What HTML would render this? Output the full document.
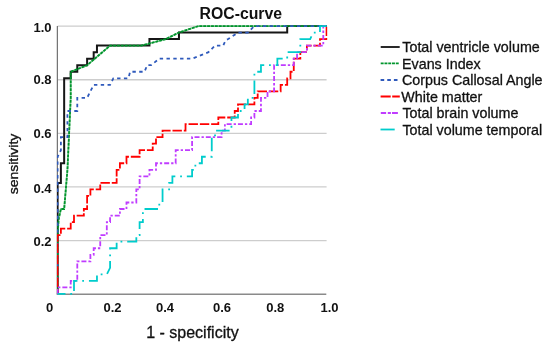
<!DOCTYPE html>
<html><head><meta charset="utf-8"><title>ROC-curve</title>
<style>html,body{margin:0;padding:0;background:#fff;}body{width:550px;height:348px;position:relative;overflow:hidden;font-family:"Liberation Sans",Arial,sans-serif;}</style>
</head><body>
<svg width="550" height="348" viewBox="0 0 550 348" style="position:absolute;left:0;top:0;filter:blur(0.35px)">
<line x1="57.6" y1="240.55" x2="326.6" y2="240.55" stroke="#cdcdcd" stroke-width="1.3"/>
<line x1="57.6" y1="186.95" x2="326.6" y2="186.95" stroke="#cdcdcd" stroke-width="1.3"/>
<line x1="57.6" y1="133.35" x2="326.6" y2="133.35" stroke="#cdcdcd" stroke-width="1.3"/>
<line x1="57.6" y1="79.75" x2="326.6" y2="79.75" stroke="#cdcdcd" stroke-width="1.3"/>
<line x1="57.6" y1="26.15" x2="326.6" y2="26.15" stroke="#cdcdcd" stroke-width="1.3"/>
<line x1="57.35" y1="26" x2="57.35" y2="294.8" stroke="#6a6a6a" stroke-width="1.15"/>
<line x1="56.8" y1="294.15" x2="326.3" y2="294.15" stroke="#8a8a8a" stroke-width="1.5"/>
<defs><clipPath id="pc"><rect x="56.9" y="25.2" width="270.5" height="269.6"/></clipPath></defs><g clip-path="url(#pc)">
<path d="M57.60 294.00 L57.60 182.88 L60.88 182.88 L60.88 163.27 L64.16 163.27 L64.16 78.29 L70.72 78.29 L70.72 71.76 L77.28 71.76 L77.28 65.22 L87.12 65.22 L87.12 58.68 L93.68 58.68 L93.68 52.15 L96.96 52.15 L96.96 45.61 L149.44 45.61 L149.44 39.07 L178.96 39.07 L178.96 32.54 L287.20 32.54 L287.20 26.00 L326.56 26.00" fill="none" stroke="#161616" stroke-width="2.0" stroke-linejoin="miter"/>
<path d="M57.60 294.00 L57.60 235.17 L58.58 219.48 L60.88 209.02 L64.16 209.02 L67.44 169.80 L70.72 97.90 L70.72 71.76 L87.12 65.22 L110.08 45.61 L141.24 45.61 L165.84 39.07 L178.96 32.54 L198.64 26.00 L326.56 26.00" fill="none" stroke="#00952c" stroke-width="1.8" stroke-linejoin="miter" stroke-opacity="0.45"/>
<path d="M57.60 294.00 L57.60 235.17 L58.58 219.48 L60.88 209.02 L64.16 209.02 L67.44 169.80 L70.72 97.90 L70.72 71.76 L87.12 65.22 L110.08 45.61 L141.24 45.61 L165.84 39.07 L178.96 32.54 L198.64 26.00 L326.56 26.00" fill="none" stroke="#00952c" stroke-width="1.8" stroke-dasharray="2.8 1.1" stroke-linejoin="miter"/>
<path d="M57.60 294.00 L57.60 156.73 L60.88 150.20 L60.88 137.12 L67.44 137.12 L67.44 110.98 L77.28 110.98 L77.28 97.90 L87.12 97.90 L93.68 84.83 L110.08 84.83 L113.36 78.29 L128.45 78.29 L130.09 71.76 L144.52 71.76 L147.14 65.22 L151.08 65.22 L159.28 58.68 L192.08 58.68 L208.48 52.15 L215.04 45.61 L223.24 45.61 L225.54 40.38 L228.16 39.07 L238.00 32.54 L247.84 32.54 L254.40 26.00 L326.56 26.00" fill="none" stroke="#2f5abc" stroke-width="1.8" stroke-dasharray="3.4 3.4" stroke-linejoin="miter"/>
<path d="M57.60 294.00 L57.60 235.17 L60.88 235.17 L60.88 228.63 L70.72 228.63 L70.72 222.10 L74.00 222.10 L74.00 215.56 L83.84 215.56 L83.84 209.02 L87.12 209.02 L87.12 195.95 L90.40 195.95 L90.40 189.41 L100.24 189.41 L100.24 182.88 L116.64 182.88 L116.64 169.80 L119.92 169.80 L119.92 163.27 L126.48 163.27 L126.48 156.73 L139.60 156.73 L139.60 150.20 L152.72 150.20 L152.72 143.66 L156.00 143.66 L156.00 137.12 L162.56 137.12 L162.56 130.59 L185.52 130.59 L185.52 124.05 L218.32 124.05 L218.32 117.51 L234.72 117.51 L234.72 110.98 L238.00 110.98 L238.00 104.44 L254.40 104.44 L254.40 97.90 L257.68 97.90 L257.68 91.37 L280.64 91.37 L280.64 84.83 L287.20 84.83 L287.20 78.29 L290.48 78.29 L290.48 71.76 L293.76 71.76 L293.76 58.68 L300.32 58.68 L300.32 52.15 L306.88 52.15 L306.88 45.61 L320.00 45.61 L320.00 39.07 L326.56 39.07 L326.56 26.00" fill="none" stroke="#ff0000" stroke-width="1.8" stroke-dasharray="9.4 1.9" stroke-linejoin="miter" stroke-dashoffset="4.2"/>
<path d="M57.60 294.00 L57.60 287.46 L70.72 287.46 L70.72 280.93 L77.28 280.93 L77.28 261.32 L90.40 261.32 L90.40 254.78 L93.68 254.78 L93.68 248.24 L100.24 248.24 L100.24 235.17 L106.80 235.17 L106.80 222.10 L110.08 222.10 L110.08 215.56 L119.92 215.56 L119.92 209.02 L126.48 209.02 L126.48 202.49 L136.32 202.49 L136.32 189.41 L139.60 189.41 L139.60 176.34 L149.44 176.34 L149.44 169.80 L156.00 169.80 L156.00 163.27 L175.68 163.27 L175.68 150.20 L192.08 150.20 L192.08 137.12 L221.60 137.12 L221.60 130.59 L224.88 130.59 L224.88 124.05 L251.12 124.05 L251.12 117.51 L254.40 117.51 L254.40 110.98 L260.96 110.98 L260.96 97.90 L267.52 97.90 L267.52 91.37 L274.08 91.37 L274.08 65.22 L293.76 65.22 L293.76 58.68 L297.04 58.68 L297.04 52.15 L306.88 52.15 L306.88 45.61 L323.28 45.61 L323.28 26.00 L326.56 26.00" fill="none" stroke="#c03cff" stroke-width="1.8" stroke-dasharray="5 2 2.3 2" stroke-linejoin="miter"/>
<path d="M57.60 294.00 L74.00 294.00 L74.00 280.93 L96.96 280.93 L96.96 274.39 L106.80 274.39 L110.08 267.85 L110.08 248.24 L116.64 248.24 L116.64 241.71 L136.32 241.71 L136.32 235.17 L139.60 235.17 L139.60 222.10 L142.88 222.10 L142.88 209.02 L159.28 209.02 L159.28 202.49 L162.56 202.49 L162.56 189.41 L169.12 189.41 L169.12 182.88 L172.40 182.88 L172.40 176.34 L192.08 176.34 L192.08 169.80 L195.36 169.80 L195.36 163.27 L201.92 163.27 L201.92 156.73 L211.76 156.73 L211.76 137.12 L215.04 137.12 L215.04 130.59 L231.44 130.59 L231.44 117.51 L238.00 117.51 L238.00 110.98 L244.56 110.98 L244.56 104.44 L247.84 104.44 L247.84 97.90 L254.40 97.90 L254.40 71.76 L260.96 71.76 L260.96 65.22 L277.36 65.22 L277.36 58.68 L287.20 58.68 L287.20 52.15 L300.32 52.15 L300.32 39.07 L310.16 39.07 L313.44 32.54 L320.00 32.54 L320.00 26.00 L326.56 26.00" fill="none" stroke="#00cccc" stroke-width="1.8" stroke-dasharray="13.5 4.8 1.8 4.9" stroke-linejoin="miter" stroke-dashoffset="5.6"/>
</g>
<line x1="380.7" y1="47.0" x2="399.7" y2="47.0" stroke="#111" stroke-width="1.8"/>
<line x1="380.7" y1="63.4" x2="399.5" y2="63.4" stroke="#00952c" stroke-width="1.8" stroke-dasharray="2.95 0.82"/>
<line x1="380.6" y1="80.0" x2="398" y2="80.0" stroke="#2f5abc" stroke-width="1.8" stroke-dasharray="3.6 3.05"/>
<path d="M380.6 96.5H390.7M392.2 96.5H399.8" stroke="#ff0000" stroke-width="1.8" fill="none"/>
<path d="M380.8 113.0H386.1M387.8 113.0H390.9M392 113.0H397.9" stroke="#c03cff" stroke-width="1.8" fill="none"/>
<line x1="380.5" y1="129.5" x2="394.7" y2="129.5" stroke="#00cccc" stroke-width="1.8"/>
<g font-family="'Liberation Sans', Arial, sans-serif" fill="#111"><text x="240.8" y="18.5" font-size="15.8" font-weight="bold" text-anchor="middle" textLength="82.6" lengthAdjust="spacingAndGlyphs">ROC-curve</text>
<text x="402.3" y="51.7" font-size="14.3" font-weight="normal" text-anchor="start" stroke="#111" stroke-width="0.3">Total ventricle volume</text>
<text x="402.0" y="68.6" font-size="14.3" font-weight="normal" text-anchor="start" stroke="#111" stroke-width="0.3">Evans Index</text>
<text x="401.9" y="85.3" font-size="14.3" font-weight="normal" text-anchor="start" stroke="#111" stroke-width="0.3">Corpus Callosal Angle</text>
<text x="401.3" y="101.7" font-size="14.3" font-weight="normal" text-anchor="start" stroke="#111" stroke-width="0.3">White matter</text>
<text x="402.4" y="118.2" font-size="14.3" font-weight="normal" text-anchor="start" stroke="#111" stroke-width="0.3">Total brain volume</text>
<text x="402.4" y="134.7" font-size="14.3" font-weight="normal" text-anchor="start" stroke="#111" stroke-width="0.3">Total volume temporal</text>
<text x="51.6" y="31.799999999999997" font-size="13" font-weight="bold" text-anchor="end">1.0</text>
<text x="51.6" y="84.4" font-size="13" font-weight="bold" text-anchor="end">0.8</text>
<text x="51.6" y="138.4" font-size="13" font-weight="bold" text-anchor="end">0.6</text>
<text x="51.6" y="193.1" font-size="13" font-weight="bold" text-anchor="end">0.4</text>
<text x="51.6" y="246.4" font-size="13" font-weight="bold" text-anchor="end">0.2</text>
<text x="49.5" y="311.5" font-size="13" font-weight="bold" text-anchor="middle">0</text>
<text x="112.5" y="311.5" font-size="13" font-weight="bold" text-anchor="middle">0.2</text>
<text x="165" y="311.5" font-size="13" font-weight="bold" text-anchor="middle">0.4</text>
<text x="222" y="311.5" font-size="13" font-weight="bold" text-anchor="middle">0.6</text>
<text x="275.2" y="311.5" font-size="13" font-weight="bold" text-anchor="middle">0.8</text>
<text x="329.5" y="311.5" font-size="13" font-weight="bold" text-anchor="middle">1.0</text>
<text x="146.2" y="338" font-size="16" font-weight="normal" text-anchor="start" stroke="#111" stroke-width="0.3">1 - specificity</text>
<text transform="translate(17.9,164) rotate(-90) scale(1.0,0.88)" font-size="14" text-anchor="middle" stroke="#111" stroke-width="0.35">sensitivity</text></g>
</svg>
</body></html>
